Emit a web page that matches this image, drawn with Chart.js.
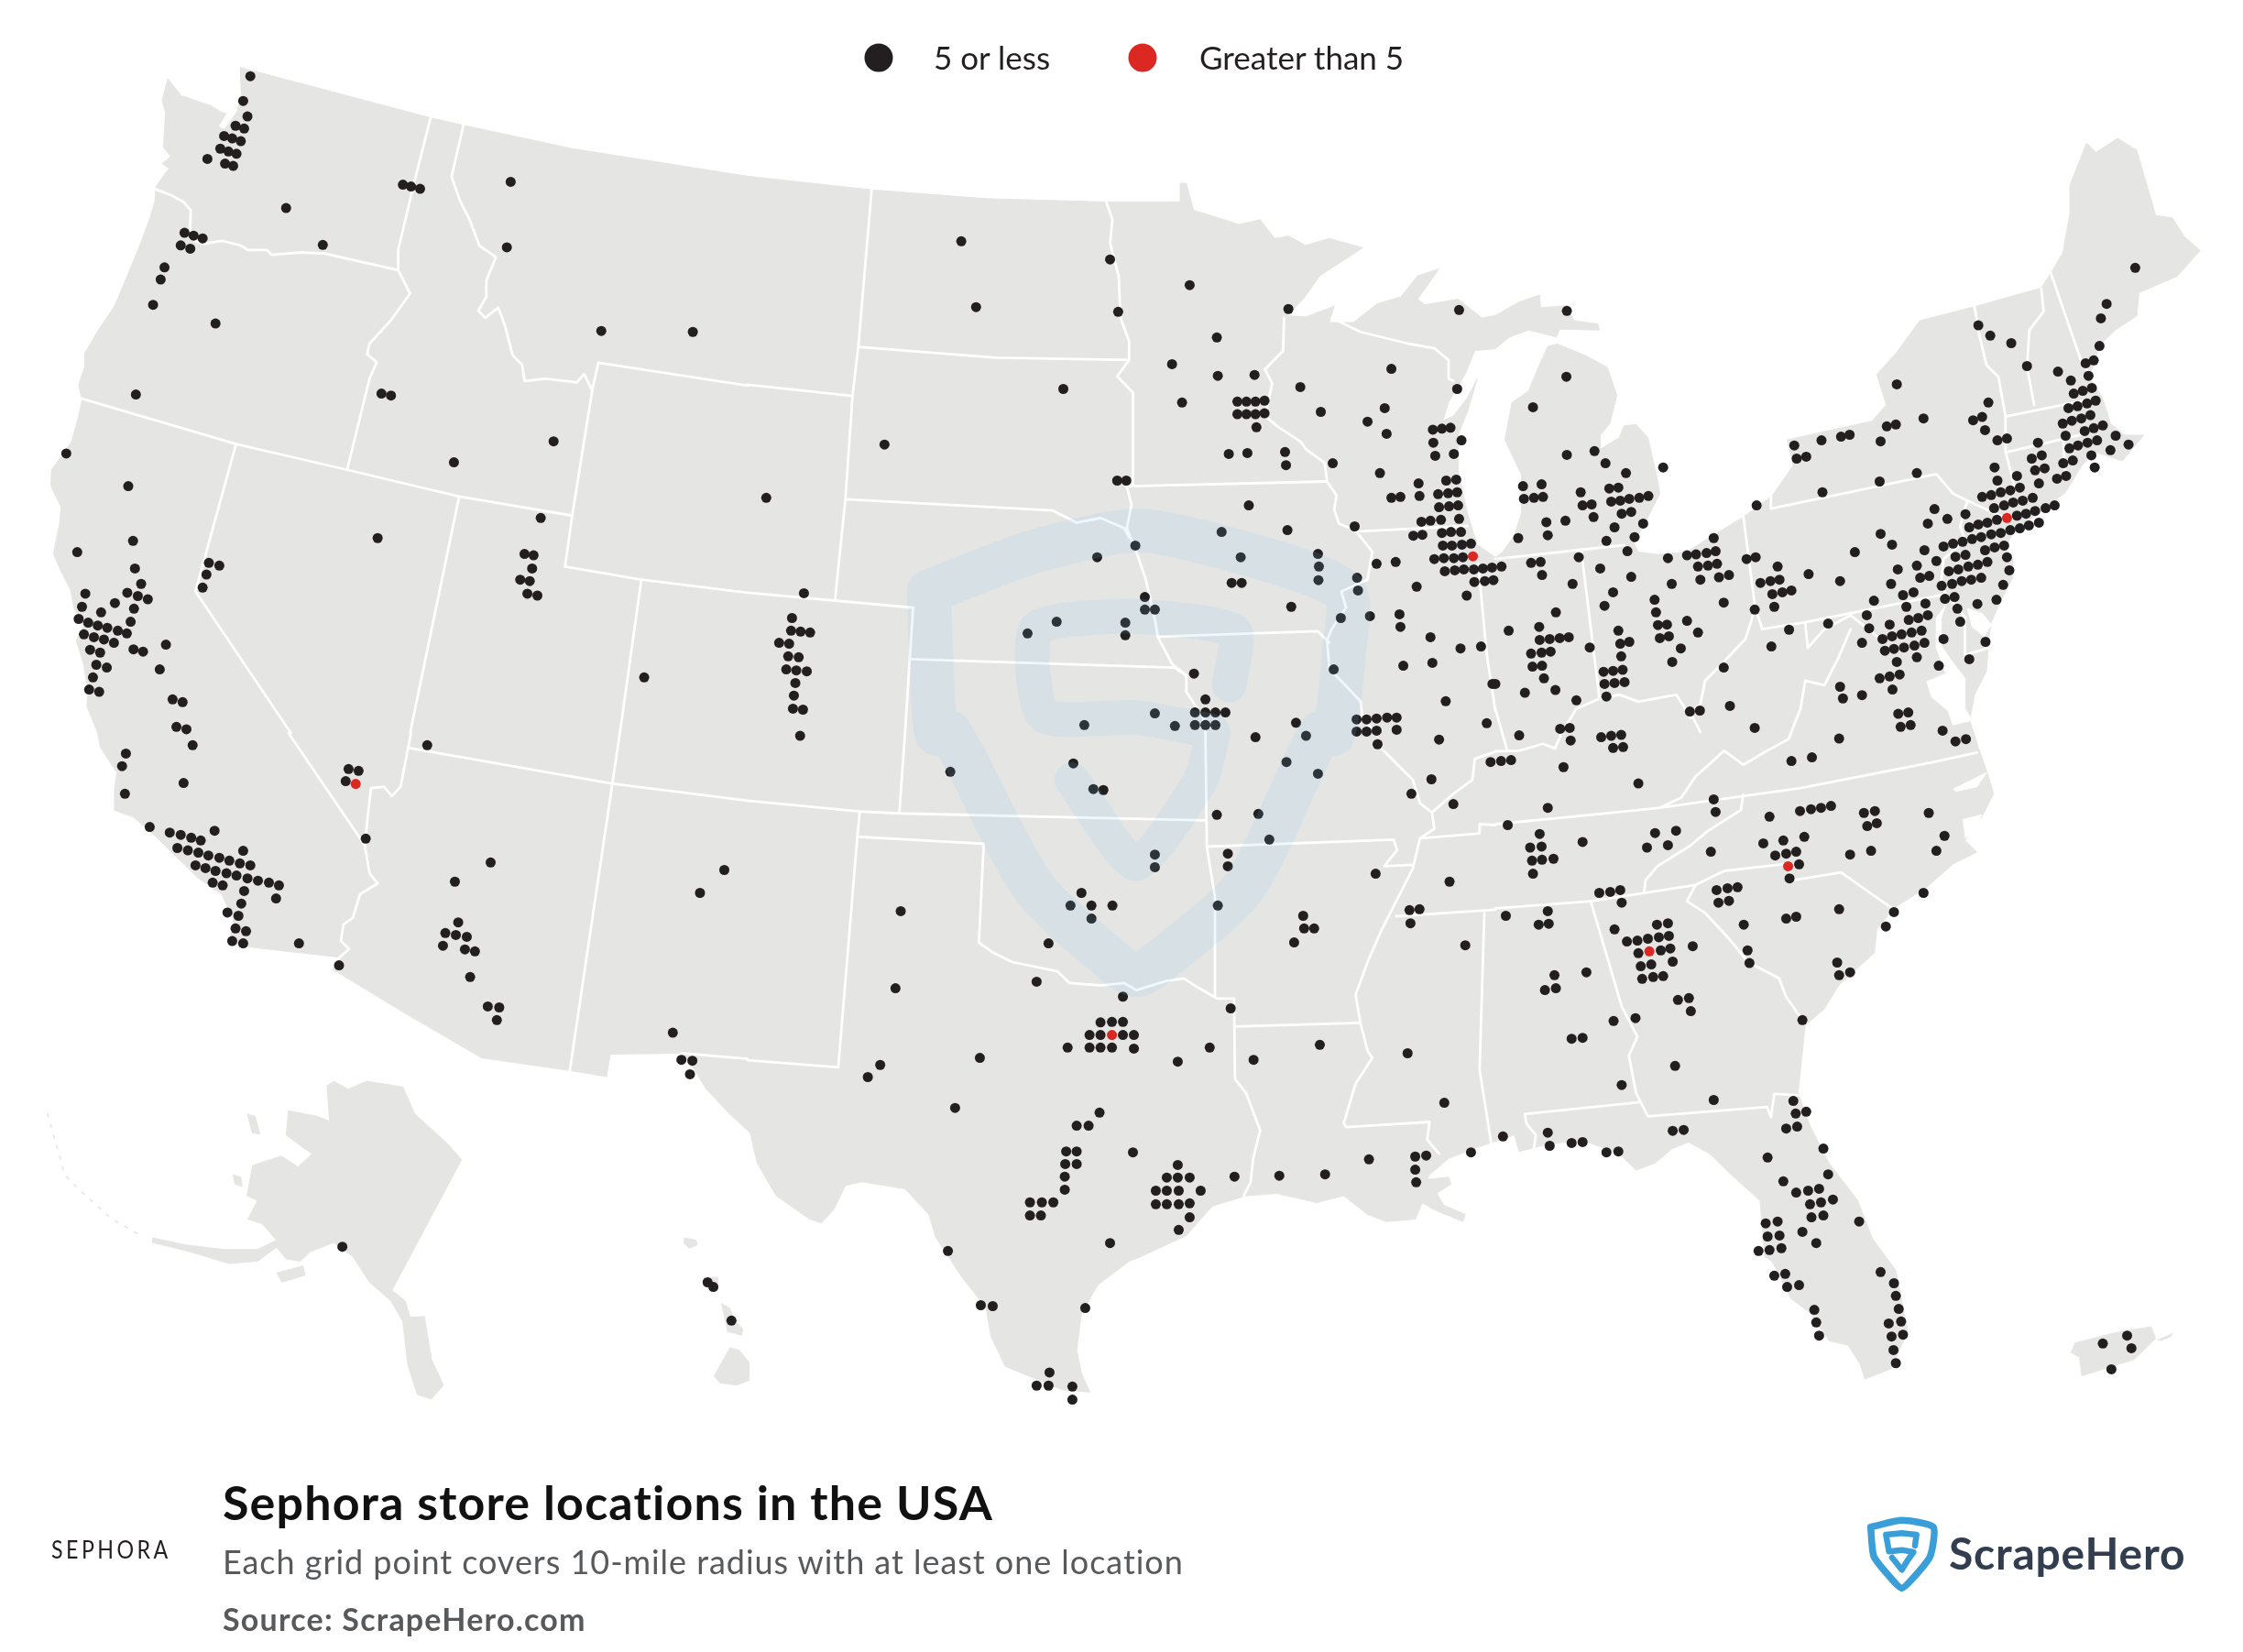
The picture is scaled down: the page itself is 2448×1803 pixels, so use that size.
<!DOCTYPE html>
<html>
<head>
<meta charset="utf-8">
<title>Sephora store locations in the USA</title>
<script src="https://cdn.jsdelivr.net/npm/chart.js@4"></script>
<style>
  html, body { margin: 0; background: #fff; }
  #wrap { position: relative; width: 2448px; height: 1803px; overflow: hidden; font-family: Lato, sans-serif; }
  #map { position: absolute; left: 0; top: 0; }
  .t { position: absolute; white-space: nowrap; line-height: 1; }
</style>
</head>
<body>
<div id="wrap">
  <canvas id="map" width="2448" height="1803"></canvas>
  <div class="t" style="left:1019px;top:45px;font-size:35px;color:#231f20">5 or less</div>
  <div class="t" style="left:1309px;top:45px;font-size:35px;color:#231f20">Greater than 5</div>
  <div class="t" style="left:243px;top:1613px;font-size:52px;font-weight:700;letter-spacing:1.15px;color:#111">Sephora store locations in the USA</div>
  <div class="t" style="left:243px;top:1686px;font-size:36px;letter-spacing:.95px;color:#58595b">Each grid point covers 10-mile radius with at least one location</div>
  <div class="t" style="left:243px;top:1750px;font-size:34px;font-weight:700;letter-spacing:1.2px;color:#58595b">Source: ScrapeHero.com</div>
  <div class="t" style="left:56px;top:1677px;font-size:27px;letter-spacing:4px;color:#231f20;transform:scaleX(.86);transform-origin:left">SEPHORA</div>
  <div class="t" style="left:2127px;top:1671px;font-size:48px;font-weight:700;letter-spacing:.8px;color:#323e4f">ScrapeHero</div>
</div>
<script>
// ── Data: store grid points, read tile by tile off the picture ───────────
const storesNW = [[525,163],[510,216],[519,249],[494,269],[512,275],[470,291],[487,296],[505,302],[462,318],[479,324],[496,329],[435,340],[472,350],[489,355],[845,395],[862,399],[881,404],[1071,389],[600,445],[387,498],[406,504],[425,510],[379,525],[399,532],[677,524],[1063,529],[345,572],[337,598],[321,652],[452,692],[1261,708],[1453,710],[285,844],[800,842],[820,846],[1161,944],[952,989],[139,970],[269,1040],[1134,1108],[792,1151],[279,1157],[162,1181],[1100,1185],[1119,1188],[1116,1216],[438,1204],[460,1210],[283,1216],[433,1229],[1091,1240],[1111,1243],[425,1257],[296,1249],[179,1270],[267,1268],[289,1275],[310,1282],[241,1290],[1106,1270],[1127,1274],[172,1298],[281,1302],[212,1310],[165,1324],[274,1330],[185,1332],[205,1338],[225,1343],[247,1349],[266,1355],[176,1357],[197,1363],[218,1368],[239,1375],[348,1379],[280,1389],[300,1394],[189,1390],[210,1396],[202,1422],[224,1428],[335,1432],[1351,1449],[195,1449],[187,1475],[208,1480],[362,1496],[383,1502],[370,1555],[391,1560]];
const storesSW = [[404,26],[264,44],[256,71],[385,107],[262,130],[896,26],[731,77],[752,81],[725,103],[767,226],[314,201],[450,209],[356,213],[379,218],[401,224],[421,230],[372,246],[394,251],[416,256],[437,262],[460,267],[481,273],[503,279],[510,252],[525,283],[410,283],[431,289],[452,295],[475,300],[496,305],[519,311],[541,316],[564,320],[585,326],[446,320],[467,326],[512,338],[579,354],[506,365],[477,384],[500,391],[494,418],[516,424],[487,445],[510,450],[627,450],[711,497],[1029,277],[954,318],[961,405],[934,428],[956,432],[979,436],[929,455],[975,463],[996,467],[986,522],[1023,585],[1047,587],[1042,614],[1519,293],[1468,342],[1411,641],[1429,699],[1452,701],[1447,730],[718,1099],[1484,1175],[1496,1185],[1534,1257]];
const storesNC = [[448,516],[760,555],[927,610],[479,657],[777,667],[1134,661],[1492,663],[984,722],[890,779],[986,804],[1063,802],[1350,789],[662,832],[1159,828],[1488,832],[911,861],[1027,859],[1046,859],[1065,859],[1084,857],[1027,886],[1046,886],[1065,886],[1084,884],[1202,881],[1336,873],[1300,902],[1067,914],[1437,919],[1456,917],[1474,915],[1340,928],[1497,942],[1438,947],[287,951],[1009,971],[1048,969],[1127,967],[1129,995],[1442,975],[1481,971],[1227,991],[1326,1012],[775,1028],[794,1028],[1465,1028],[1486,1026],[1407,1034],[39,1065],[1448,1057],[1469,1055],[1488,1053],[1350,1065],[1369,1063],[1409,1061],[1051,1081],[1450,1085],[1471,1083],[1490,1081],[1413,1116],[1432,1114],[1454,1112],[1492,1110],[1273,1126],[994,1138],[1132,1134],[1396,1146],[1415,1144],[1456,1140],[1475,1138],[1496,1138],[813,1167],[1458,1167],[1477,1167],[1498,1165],[1517,1163],[733,1192],[1034,1192],[1196,1185],[1440,1196],[1460,1194],[1481,1194],[1500,1192],[1319,1206],[1359,1202],[1198,1212],[1462,1222],[1483,1220],[1502,1218],[1523,1218],[1542,1216],[1561,1214],[1278,1236],[1197,1241],[1015,1247],[1036,1247],[1524,1245],[1546,1243],[1564,1241],[1280,1263],[1403,1255],[118,1269],[1508,1274],[833,1277],[1140,1298],[93,1322],[833,1304],[854,1304],[1244,1322],[1305,1318],[1367,1314],[91,1349],[111,1351],[131,1353],[648,1330],[792,1332],[587,1355],[792,1359],[1369,1341],[66,1375],[87,1377],[1432,1363],[85,1404],[107,1406],[1495,1387],[1538,1383],[81,1432],[102,1434],[124,1436],[1375,1424],[1436,1418],[1229,1432],[936,1441],[100,1461],[1562,1463],[97,1488],[1464,1500],[95,1516],[116,1518],[960,1496],[938,1524],[960,1524],[981,1524],[1002,1524],[854,1526],[706,1551],[896,1553],[938,1551],[960,1551],[981,1551],[1150,1546],[1277,1539],[1298,1539],[1319,1537],[1341,1535],[1361,1535],[1277,1565],[1298,1565],[1319,1563],[1361,1561],[1550,1547]];
const storesSC = [[110,6],[1065,9],[1171,6],[1450,14],[1321,24],[425,83],[683,65],[1130,62],[1196,87],[1558,62],[725,120],[746,122],[1434,99],[1392,130],[1480,152],[984,175],[1071,173],[1094,228],[854,260],[1007,258],[854,287],[1007,285],[1317,301],[1472,318],[700,342],[677,369],[721,369],[765,369],[986,369],[721,397],[1388,379],[1409,377],[321,381],[1390,407],[1165,391],[1167,418],[1188,418],[1146,448],[631,450],[1505,454],[606,532],[310,546],[787,564],[1013,589],[740,619],[764,618],[787,618],[717,646],[740,646],[787,646],[810,646],[671,673],[717,673],[740,673],[764,673],[810,675],[969,673],[487,695],[902,703],[1061,699],[1200,667],[1384,685],[278,710],[252,736],[435,802],[738,812],[690,840],[715,840],[1461,791],[668,895],[690,895],[808,897],[666,922],[690,922],[902,924],[1303,912],[1400,906],[1423,904],[1517,897],[665,949],[879,951],[902,951],[927,951],[1021,949],[1115,947],[1211,944],[1400,934],[665,977],[856,979],[879,979],[904,979],[950,979],[1402,961],[592,1004],[617,1004],[641,1004],[856,1008],[879,1008],[904,1008],[927,1006],[592,1032],[615,1032],[927,1036],[904,1063],[760,1091],[420,1108],[489,1224],[514,1226],[708,1230],[633,1368],[606,1396],[631,1396],[681,1398],[681,1426]];
const storesNE = [[1342,377],[1282,454],[1270,485],[150,469],[1013,500],[1038,522],[1082,538],[1267,544],[1238,581],[1255,575],[1115,587],[1180,599],[149,610],[1244,608],[1207,618],[842,626],[1251,634],[1232,640],[1213,646],[1259,661],[1241,667],[1221,673],[1202,677],[1034,665],[79,675],[898,699],[1248,692],[1229,699],[1209,704],[1190,710],[1021,696],[1002,703],[821,716],[840,712],[1274,714],[1255,720],[1236,726],[1027,724],[743,734],[725,738],[684,746],[1301,736],[1196,736],[1053,746],[1073,742],[1262,746],[1242,751],[1222,757],[1204,763],[808,748],[627,757],[1138,751],[1328,755],[1290,767],[632,785],[652,781],[150,777],[208,769],[1146,778],[1125,785],[1250,778],[231,795],[1211,789],[1191,795],[352,804],[1047,804],[1257,804],[1152,806],[1132,810],[274,816],[1197,822],[1178,828],[884,816],[1094,822],[806,834],[1053,832],[1140,838],[58,844],[97,840],[239,849],[258,847],[1100,847],[686,857],[1080,853],[1060,857],[1040,863],[1021,867],[179,857],[60,871],[81,869],[100,867],[243,877],[262,875],[281,871],[302,869],[321,865],[1127,869],[1106,875],[1086,879],[1067,885],[1046,891],[183,885],[202,883],[548,885],[921,893],[1173,885],[1154,891],[1132,897],[1113,903],[1094,907],[265,903],[285,899],[986,904],[206,910],[948,914],[1052,916],[1032,922],[1013,926],[994,932],[107,921],[147,918],[310,924],[907,924],[1140,922],[1119,928],[1100,934],[1080,938],[1060,944],[1040,947],[1019,953],[1000,957],[980,963],[960,967],[940,973],[250,932],[110,949],[48,955],[292,953],[233,961],[458,955],[808,946],[832,969],[1067,971],[1047,975],[1027,981],[277,983],[900,981],[754,985],[462,983],[443,987],[421,990],[402,992],[986,991],[965,995],[175,996],[1073,996],[362,998],[527,1000],[546,996],[75,1008],[95,1006],[925,1004],[1032,1006],[13,1016],[465,1010],[446,1014],[425,1016],[220,1020],[592,1016],[884,1014],[1012,1012],[992,1016],[971,1022],[951,1026],[844,1022],[1078,1024],[657,1032],[98,1034],[490,1034],[469,1039],[285,1038],[430,1044],[910,1036],[891,1040],[1019,1040],[998,1044],[978,1047],[958,1053],[936,1057],[596,1044],[577,1047],[556,1051],[723,1047],[830,1053],[162,1053],[370,1053],[1065,1055],[621,1067],[602,1071],[581,1075],[877,1071],[855,1077],[247,1071],[963,1081],[943,1085],[334,1087],[794,1089],[1051,1087],[479,1093],[1011,1096],[229,1100],[585,1102],[902,1095],[862,1102],[544,1108],[337,1114],[969,1106],[127,1114],[907,1120],[887,1126],[867,1130],[779,1120],[975,1134],[402,1132],[698,1138],[341,1141],[360,1140],[92,1145],[827,1140],[784,1148],[616,1151],[28,1153],[258,1153],[425,1157],[894,1153],[873,1157],[852,1161],[832,1165],[812,1171],[345,1169],[364,1165],[154,1167],[135,1169],[114,1171],[93,1173],[940,1171],[1028,1177],[769,1179],[900,1179],[879,1185],[857,1189],[836,1192],[817,1196],[262,1181],[281,1177],[579,1187],[389,1191],[198,1189],[116,1198],[97,1200],[75,1202],[884,1210],[264,1208],[994,1214],[371,1220],[842,1220],[930,1228],[98,1228],[78,1230],[479,1232],[267,1237],[247,1239],[227,1241],[848,1247],[827,1251],[806,1255],[102,1255],[271,1263],[250,1265],[229,1267],[0,1267],[723,1273],[126,1280],[833,1279],[62,1286],[769,1291],[729,1298],[233,1294],[170,1302],[492,1314],[408,1326],[429,1324],[845,1331],[866,1328],[136,1363],[156,1361],[850,1359],[871,1355],[544,1361],[938,1367]];
const storesSE = [[50,5],[158,16],[222,9],[243,6],[264,4],[247,32],[268,30],[721,12],[965,18],[987,13],[12,60],[33,58],[621,60],[664,52],[143,73],[300,108],[458,142],[110,160],[462,169],[639,167],[662,163],[683,160],[704,156],[773,171],[796,167],[909,171],[575,179],[780,199],[800,193],[26,197],[93,216],[335,214],[379,209],[648,222],[942,220],[183,233],[562,236],[604,230],[73,245],[97,243],[318,245],[362,240],[452,254],[631,254],[610,258],[587,262],[744,260],[788,252],[925,252],[77,273],[98,271],[122,269],[637,281],[79,301],[617,311],[262,336],[241,340],[218,342],[508,330],[487,332],[464,336],[898,342],[265,363],[490,359],[468,363],[22,391],[110,381],[721,377],[836,383],[631,393],[610,397],[91,410],[112,408],[339,410],[362,407],[819,414],[521,410],[250,420],[364,434],[343,437],[320,440],[298,444],[276,446],[414,456],[367,461],[347,465],[300,471],[529,465],[372,489],[327,495],[305,499],[533,492],[717,491],[191,512],[744,512],[721,518],[124,518],[352,520],[331,522],[308,526],[127,546],[104,550],[383,571],[406,567],[410,595],[294,610],[248,616],[644,614],[183,652],[160,654],[377,712],[265,753],[458,785],[625,787],[630,814],[652,810],[633,842],[610,846],[395,849],[372,851],[110,855],[16,863],[183,875],[160,877],[114,883],[688,889],[258,895],[233,897],[571,908],[698,944],[604,959],[679,975],[656,979],[631,983],[708,998],[683,1004],[660,1008],[688,1032],[663,1036],[592,1045],[567,1049],[763,1045],[644,1067],[596,1075],[571,1077],[673,1091],[600,1102],[575,1106],[552,1108],[808,1153],[608,1157],[585,1161],[836,1177],[637,1181],[612,1185],[840,1204],[846,1232],[669,1234],[851,1259],[673,1261],[825,1263],[855,1287],[679,1289],[831,1291],[1325,1289],[1274,1306],[1334,1316],[835,1320],[840,1348],[1292,1361]];
const redSW = [[746,109]];
const redNC = [[1521,1190]];
const redSC = [[764,646]];
const redNE = [[1073,912]];
const redSE = [[614,285],[323,467]];

// ── Data: land outlines, same tiles ──────────────────────────────────────
const coastNW = [[503,144],[903,252],[972,268],[1200,318],[1568,377]];
const coastNC = [[260,406],[500,425],[750,432],[907,432],[907,392],[920,392],[935,450],[1000,470],[1030,480],[1075,470],[1105,510],[1135,505],[1170,525],[1220,510],[1290,530],[1200,590],[1165,640],[1130,675],[1170,678],[1230,655],[1220,690],[1270,690],[1320,650],[1370,635],[1405,590],[1450,575],[1405,640],[1420,652],[1490,640],[1540,680],[1568,675]];
const coastUP = [[50,450],[93,435],[95,462],[150,458],[165,490],[215,497],[218,510],[135,508],[128,525],[70,510],[30,525],[0,550]];
const coastLakeMI = [[1525,750],[1505,800],[1470,860],[1458,900],[1480,890],[1510,850],[1530,810],[1510,880],[1490,930],[1490,1010],[1510,1100],[1530,1165],[1568,1192]];
const coastNE = [[15,985],[40,950],[55,900],[55,820],[20,745],[35,665],[70,640],[90,590],[110,545],[130,540],[190,565],[235,590],[255,650],[240,710],[220,735],[220,765],[260,740],[270,715],[295,712],[320,740],[340,830],[345,860],[310,930],[290,965],[300,985],[340,990],[400,985],[520,910],[580,865],[625,800],[612,745],[700,725],[790,705],[820,670],[800,605],[840,560],[890,490],[1005,460],[1145,420],[1165,388],[1190,345],[1205,260],[1205,200],[1240,110],[1260,130],[1305,100],[1345,125],[1385,265],[1420,270],[1445,310],[1478,340],[1430,395],[1350,430],[1345,480],[1300,510],[1270,540],[1245,610],[1265,640],[1275,660],[1290,710],[1320,735],[1360,735],[1315,790],[1255,770],[1230,800],[1195,858],[1085,945],[1070,975],[1085,1000],[1085,1040],[1060,1090],[1040,1135],[1035,1170],[1030,1240],[1005,1290],[995,1345]];
const coastSE = [[1012,28],[1030,80],[1045,130],[1020,180],[985,230],[1010,255],[960,280],[905,330],[835,375],[800,420],[795,470],[720,540],[690,590],[650,625],[640,720],[635,770],[660,840],[700,920],[760,1000],[790,1080],[840,1150],[865,1280],[830,1360],[775,1382],[765,1350],[740,1310],[700,1300],[660,1240],[620,1210],[580,1130],[565,1120],[555,1000],[500,950],[450,900],[405,875],[370,890],[335,920],[295,935],[260,900],[180,870],[110,880],[50,895],[40,860]];
const coastSC = [[1520,890],[1470,910],[1430,945],[1425,955],[1470,950],[1475,965],[1445,985],[1460,1010],[1505,1030],[1500,1045],[1440,1020],[1415,1005],[1400,1040],[1340,1045],[1300,1030],[1250,990],[1210,1000],[1195,1005],[1110,985],[1045,990],[975,1012],[950,1040],[920,1075],[825,1120],[800,1130],[735,1180],[700,1240],[690,1320],[700,1370],[718,1410],[660,1405],[540,1355],[510,1290],[500,1230],[450,1165],[395,1080],[380,1030],[330,975],[240,960],[205,968],[180,1020],[155,1048],[130,1040],[60,990],[20,920],[5,855]];
const coastSW = [[1530,815],[1480,760],[1447,705],[1430,685],[1280,687],[1272,735],[1195,722],[1010,695],[850,600],[697,505],[715,480],[525,458],[510,455],[480,450],[490,400],[465,345],[415,310],[345,240],[320,215],[280,180],[240,165],[240,120],[245,85],[210,30],[205,0]];
const coastWest = [[182,1510],[185,1480],[175,1420],[160,1370],[175,1340],[155,1300],[148,1262],[127,1220],[112,1185],[125,1120],[128,1085],[107,1040],[108,1005],[150,945],[165,890],[172,855],[165,825],[177,785],[178,755],[205,708],[240,655],[265,595],[295,520],[315,465],[325,430],[327,400],[340,380],[355,360],[340,350],[358,335],[343,315],[347,240],[340,215],[352,168],[380,205],[440,225],[465,240],[480,245],[495,225],[505,205]];
const alaska = [[685,755],[700,745],[730,762],[770,745],[845,757],[870,815],[940,880],[968,913],[822,1192],[850,1215],[860,1250],[890,1248],[905,1340],[930,1395],[905,1425],[875,1415],[855,1350],[845,1260],[820,1215],[775,1175],[740,1120],[700,1090],[650,1110],[630,1130],[600,1125],[580,1100],[540,1130],[480,1135],[400,1110],[320,1090],[320,1080],[390,1095],[470,1105],[540,1105],[580,1085],[550,1050],[520,1040],[540,1000],[518,990],[530,925],[590,905],[625,928],[655,900],[640,890],[600,860],[605,808],[665,820],[690,830]];
const kodiak = [[580,1155],[635,1140],[640,1160],[590,1175]];
const stLawrence = [[518,815],[535,820],[545,858],[528,855]];
const nunivak = [[488,945],[505,950],[508,970],[492,965]];
const aleutians = [[100,815],[108,845],[125,905],[135,945],[175,985],[235,1040],[300,1078]];
const hawaiiBig = [[1530,1315],[1550,1320],[1570,1345],[1570,1385],[1545,1395],[1510,1390],[1497,1375]];
const hawaiiMaui = [[1512,1220],[1530,1230],[1540,1255],[1558,1275],[1555,1288],[1525,1280]];
const hawaiiOahu = [[1475,1165],[1505,1165],[1505,1190],[1490,1190]];
const hawaiiKauai = [[1435,1080],[1460,1085],[1462,1095],[1445,1102],[1433,1090]];
const puertoRico = [[1215,1305],[1300,1283],[1375,1270],[1385,1295],[1340,1340],[1230,1375],[1225,1335],[1207,1325]];
const vieques = [[1390,1298],[1420,1285],[1415,1292],[1395,1300]];
const pugetSound = [[465,178],[485,172],[490,200],[505,195],[495,240],[470,275],[460,270],[478,240],[480,205],[470,190]];
const chesapeake = [[945,1098],[925,1125],[925,1190],[945,1245],[905,1262],[915,1295],[950,1325],[960,1355],[1000,1345],[985,1320],[985,1255],[955,1215],[935,1185],[935,1130]];
const delawareBay = [[990,1105],[1000,1145],[1025,1165],[1040,1140],[1020,1115]];
const albemarle = [[960,120],[1000,100],[1030,85],[1010,115],[965,125]];
const pamlico = [[980,185],[1020,175],[1005,210],[985,225]];

// ── Data: state lines ────────────────────────────────────────────────────
const linesNW = [
  [[903,252],[870,385],[835,535],[835,578]],
  [[972,268],[947,378],[965,430],[985,470],[1005,525],[1040,550],[1020,600],[1020,635],[1003,665],[1018,680],[1045,658],[1060,700],[1075,760],[1095,780],[1100,815],[1145,810],[1210,818],[1225,800],[1242,835]],
  [[1255,776],[1242,835],[1200,1103],[1185,1212],[1345,1240],[1568,1268]],
  [[1255,776],[1568,825]],
  [[327,405],[360,418],[385,432],[400,450],[398,510],[425,522],[465,515],[505,525],[520,535],[560,535],[570,545],[630,540],[680,542],[835,578],[860,628],[820,685],[775,735],[770,758],[790,775],[775,810],[728,1005]],
  [[172,853],[495,950],[728,1005],[963,1062],[1200,1103]],
  [[495,950],[410,1265],[610,1568]],
  [[963,1062],[860,1568]],
  [[1345,1240],[1300,1568]]
];
const linesSW = [
  [[605,0],[765,240]],
  [[862,0],[840,115],[822,135],[805,115],[778,118],[770,190],[765,240],[775,300],[792,322],[755,345],[740,395],[720,410],[715,445],[732,462],[712,480]],
  [[858,32],[1282,108],[1568,145]],
  [[1300,0],[1195,722]],
  [[1430,685],[1568,697]]
];
const linesNC = [
  [[260,406],[232,742],[220,845],[205,1068],[183,1285]],
  [[232,742],[520,765],[800,770]],
  [[0,823],[220,847]],
  [[205,1068],[640,1092],[690,1118],[740,1108],[790,1130],[800,1150]],
  [[752,432],[765,470],[760,520],[778,590],[782,680],[800,730],[800,770],[775,805],[808,840],[808,1040]],
  [[800,1040],[1215,1030]],
  [[795,1040],[805,1080],[795,1130],[815,1180],[835,1240],[855,1330],[860,1362],[890,1420],[920,1445],[920,1480],[955,1535],[960,1568]],
  [[1125,680],[1123,750],[1085,790],[1100,820],[1085,890],[1115,915],[1160,945],[1170,960],[1210,990],[1215,1030],[1235,1060],[1230,1090],[1240,1120],[1275,1135],[1310,1180],[1300,1240],[1245,1265],[1255,1300],[1225,1345],[1215,1370],[1220,1430],[1285,1500],[1290,1540],[1320,1568]],
  [[1225,680],[1285,710],[1385,735],[1440,745],[1470,770],[1470,810],[1480,815]],
  [[1275,1137],[1510,1125]],
  [[1532,1205],[1550,1400],[1568,1520]],
  [[0,1268],[347,1300],[340,1410],[330,1568]],
  [[340,1410],[895,1428],[920,1445]],
  [[860,1362],[1195,1350],[1220,1375]]
];
const linesSC = [
  [[330,0],[318,172]],
  [[0,145],[235,168],[318,172],[960,187]],
  [[235,168],[230,222],[190,715],[0,700]],
  [[230,222],[495,237],[485,448],[515,470],[555,490],[650,510],[675,535],[740,540],[790,535],[815,550],[880,530],[915,525],[945,545],[985,568],[1020,568]],
  [[960,0],[963,245],[980,350],[980,565]],
  [[1020,568],[1022,740],[1045,770],[1075,850],[1060,910],[1055,960],[1040,990]],
  [[1022,628],[1282,620]],
  [[963,243],[1355,228],[1362,250],[1335,285],[1395,282]],
  [[1320,24],[1395,100],[1410,150],[1435,170],[1440,205],[1410,225],[1395,290],[1365,350],[1330,420],[1300,490],[1275,560],[1285,620],[1300,680],[1310,695],[1275,750],[1250,835],[1255,843],[1430,832],[1425,870],[1450,900]],
  [[1545,385],[1535,720],[1562,895]],
  [[1360,392],[1568,378]],
  [[1412,225],[1535,215],[1535,195],[1568,197]],
  [[1435,170],[1480,130],[1520,100],[1525,55],[1568,40]]
];
const linesNE = [
  [[0,1000],[180,980],[270,970]],
  [[180,980],[218,1295]],
  [[0,1320],[25,1410]],
  [[0,1411],[50,1410],[100,1395],[125,1405],[140,1370],[170,1320],[215,1300],[260,1290],[300,1305],[380,1290],[410,1340]],
  [[520,908],[545,1105],[560,1150],[650,1135],[945,1075]],
  [[578,865],[578,892],[925,818],[960,860],[990,875],[1065,910]],
  [[990,875],[975,930],[985,960],[940,1000],[935,1050],[945,1075],[985,1125],[985,1205],[1035,1190]],
  [[650,1135],[655,1190],[690,1150],[745,1120],[800,1165]],
  [[745,1150],[720,1210],[690,1270],[650,1260],[640,1320],[615,1385]],
  [[545,1105],[525,1170],[470,1230],[440,1260],[430,1310],[410,1330],[430,1370]],
  [[1005,460],[1015,520],[1030,585],[1055,610],[1070,695],[1070,770],[1085,830],[1090,850]],
  [[1145,422],[1150,470],[1120,510],[1115,590],[1130,670]],
  [[1165,388],[1230,580],[1245,600]],
  [[1070,695],[1240,660]],
  [[1070,772],[1245,730]],
  [[1190,730],[1195,810]]
];
const linesSE = [
  [[615,13],[570,38],[520,68],[480,38],[420,93],[390,138],[345,160]],
  [[1010,42],[920,62],[640,118],[345,160],[200,175],[0,195]],
  [[520,132],[515,165],[445,210],[410,240],[340,285],[315,315],[312,342]],
  [[0,375],[200,360],[420,325],[480,295],[610,280],[625,315],[725,298],[832,375]],
  [[420,325],[402,360],[440,385],[490,440],[530,490],[595,525],[610,565],[645,615]],
  [[200,360],[265,585],[298,650],[280,690],[295,770],[320,820],[570,800],[578,822],[585,772],[635,775]],
  [[300,790],[62,815],[65,835],[85,860],[80,895]]
];

// ── Data: brand marks ────────────────────────────────────────────────────
const shieldRim = [[380,1265],[600,1180],[815,1135],[1030,1180],[1250,1265],[1250,1400],[1228,1568]];
const shieldRimLow = [[1200,0],[1040,330],[850,500],[815,518],[780,500],[600,330],[425,0]];
const shieldRimTop = [[395,1568],[380,1265]];
const shieldS = [[1010,1465],[1020,1350],[800,1318],[605,1345],[620,1530],[815,1535],[975,1565]];
const shieldSLow = [[975,5],[950,100],[815,280],[680,100]];
const logoRim = [[275,140],[377,118],[480,140],[470,235],[420,300],[377,340],[335,300],[285,235],[275,140]];
const logoS = [[420,200],[425,165],[377,160],[325,165],[335,220],[377,215],[415,222],[395,250],[377,280],[345,240]];
const legendDark = [[959,63]];
const legendRed = [[1247,63]];

// ── Tile → picture units ─────────────────────────────────────────────────
const SX = 816 / 1568, SY = 800 / 1568;
const tile = (pts, ox, oy) => pts.map(p => ({ x: ox + p[0] * SX, y: oy + p[1] * SY }));
const logoTile = pts => pts.map(p => ({ x: 1950 + p[0] / 3, y: 1620 + p[1] / 3 }));
const plain = pts => pts.map(p => ({ x: p[0], y: p[1] }));

const landMain = [
  ...tile(coastNW, 0, 0), ...tile(coastNC, 816, 0), ...tile(coastUP, 1632, 100),
  ...tile(coastLakeMI, 816, 0), ...tile(coastNE, 1632, 100), ...tile(coastSE, 1632, 800),
  ...tile(coastSC, 816, 800), ...tile(coastSW, 0, 800), ...tile(coastWest, 0, 0)
];
const darkStores = [
  ...tile(storesNW, 0, 0), ...tile(storesSW, 0, 800), ...tile(storesNC, 816, 0),
  ...tile(storesSC, 816, 800), ...tile(storesNE, 1632, 100), ...tile(storesSE, 1632, 800)
];
const redStores = [
  ...tile(redSW, 0, 800), ...tile(redNC, 816, 0), ...tile(redSC, 816, 800),
  ...tile(redNE, 1632, 100), ...tile(redSE, 1632, 800)
];

// ── Dataset helpers ──────────────────────────────────────────────────────
const LAND = '#e5e5e4';
const polygon = (data, color, order) => ({
  data, showLine: true, fill: 'shape', backgroundColor: color, borderColor: color,
  borderWidth: 1, pointRadius: 0, order
});
const stroke = (data, color, width, order, tension = 0) => ({
  data, showLine: true, fill: false, borderColor: color, borderWidth: width, tension,
  borderJoinStyle: 'round', borderCapStyle: 'round', pointRadius: 0, order
});
const dots = (data, color, r, order) => ({
  data, showLine: false, backgroundColor: color, borderWidth: 0, pointRadius: r, order
});

const datasets = [
  polygon(landMain, LAND, 50),
  polygon(tile(alaska, 0, 800), LAND, 50),
  polygon(tile(kodiak, 0, 800), LAND, 50),
  polygon(tile(stLawrence, 0, 800), LAND, 50),
  polygon(tile(nunivak, 0, 800), LAND, 50),
  { ...stroke(tile(aleutians, 0, 800), '#e9e9e8', 2, 50), borderDash: [3, 9] },
  polygon(tile(hawaiiBig, 0, 800), LAND, 50),
  polygon(tile(hawaiiMaui, 0, 800), LAND, 50),
  polygon(tile(hawaiiOahu, 0, 800), LAND, 50),
  polygon(tile(hawaiiKauai, 0, 800), LAND, 50),
  polygon(tile(puertoRico, 1632, 800), LAND, 50),
  polygon(tile(vieques, 1632, 800), LAND, 50),
  polygon(tile(pugetSound, 0, 0), '#fff', 40),
  polygon(tile(chesapeake, 1632, 100), '#fff', 40),
  polygon(tile(delawareBay, 1632, 100), '#fff', 40),
  polygon(tile(albemarle, 1632, 800), '#fff', 40),
  polygon(tile(pamlico, 1632, 800), '#fff', 40)
];
[[linesNW, 0, 0], [linesSW, 0, 800], [linesNC, 816, 0], [linesSC, 816, 800], [linesNE, 1632, 100], [linesSE, 1632, 800]]
  .forEach(([group, ox, oy]) => group.forEach(l => datasets.push(stroke(tile(l, ox, oy), '#fff', 2.8, 30))));

// store dots sit under the faint watermark, that is how the picture has it
datasets.push(dots(darkStores, '#231f20', 5.5, 20));
datasets.push(dots(redStores, '#dc2823', 5.5, 19));

const WM = 'rgba(122,199,243,0.13)';
datasets.push(stroke([...tile(shieldRim, 816, 0), ...tile(shieldRimLow, 816, 800), ...tile(shieldRimTop, 816, 0)], WM, 48, 10, 0.25));
datasets.push(stroke([...tile(shieldS, 816, 0), ...tile(shieldSLow, 816, 800)], WM, 38, 10, 0.2));

datasets.push(stroke(logoTile(logoRim), '#3a9fd8', 7.5, 5, 0.2));
datasets.push(stroke(logoTile(logoS), '#3a9fd8', 6.5, 5));
datasets.push(dots(plain(legendDark), '#231f20', 15.5, 5));
datasets.push(dots(plain(legendRed), '#dc2823', 15.5, 5));

new Chart(document.getElementById('map'), {
  type: 'scatter',
  data: { datasets },
  options: {
    responsive: false,
    animation: false,
    events: [],
    layout: { padding: 0, autoPadding: false },
    plugins: { legend: { display: false }, tooltip: { enabled: false } },
    scales: {
      x: { type: 'linear', display: false, min: 0, max: 2448 },
      y: { type: 'linear', display: false, min: 0, max: 1803, reverse: true }
    }
  }
});
</script>
</body>
</html>
